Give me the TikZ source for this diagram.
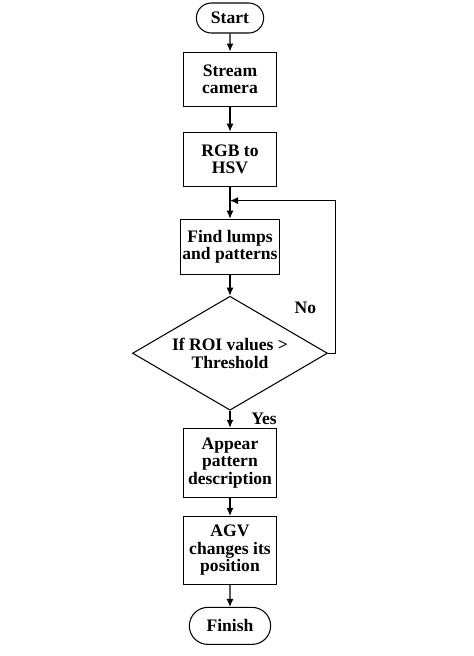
\documentclass[tikz,border=0pt]{standalone}
\usepackage{fontspec}
\setmainfont{Liberation Serif}
\usetikzlibrary{arrows.meta,positioning,shapes.geometric,shapes.misc}
\tikzset{
    flowterm/.style={rounded rectangle,draw,align=center,minimum width=1.58cm,minimum height=0.6cm},
    flowbox/.style={rectangle,draw,align=center,inner xsep=1pt,minimum width=1.86cm,minimum height=1.08cm},
    flowcond/.style={diamond,draw,align=center,aspect=1.71,inner sep=0pt,minimum width=3.9cm,minimum height=2.28cm},
    flowarrow/.style={-{Latex[length=1.6mm,width=1.4mm]},line width=0.6pt}
}

\begin{document}
\begin{tikzpicture}[font=\bfseries\fontsize{10}{10}\selectfont,line width=0.6pt]
            \useasboundingbox (0,0) rectangle (9.48,-13.12);
            \node[flowterm] (start) at (4.6,-0.36) {Start};
            \node[flowbox,below=3.6mm of start] (stream) {Stream\\camera};
            \node[flowbox,below=5mm of stream] (rgb) {RGB to\\HSV};
            \node[flowbox,below=6.4mm of rgb,minimum height=1.1cm] (find) {Find lumps\\and patterns};
            \node[flowcond,below=4.2mm of find] (roi) {If ROI values >\\Threshold};
            \node[flowbox,below=3.4mm of roi,minimum height=1.38cm] (appear) {Appear\\pattern\\description};
            \node[flowbox,below=3.6mm of appear,minimum height=1.36cm] (agv) {AGV\\changes its\\position};
            \node[flowterm,below=4.4mm of agv,minimum width=1.86cm,minimum height=0.74cm] (finish) {Finish};
            \coordinate[above=3.6mm of find.north] (loop);
            \draw[flowarrow] (start) -- (stream);
            \draw[flowarrow] (stream) -- (rgb);
            \draw[flowarrow] (rgb) -- (find);
            \draw[flowarrow] (find) -- (roi);
            \draw[flowarrow] (roi) -- node[right=3mm]{Yes} (appear);
            \draw[flowarrow] (roi.east) -- ++(0.14,0) |- node[pos=0.15,left=2.5mm]{No} (loop);
            \draw[flowarrow] (appear) -- (agv);
            \draw[flowarrow] (agv) -- (finish);
        \end{tikzpicture}
\end{document}
